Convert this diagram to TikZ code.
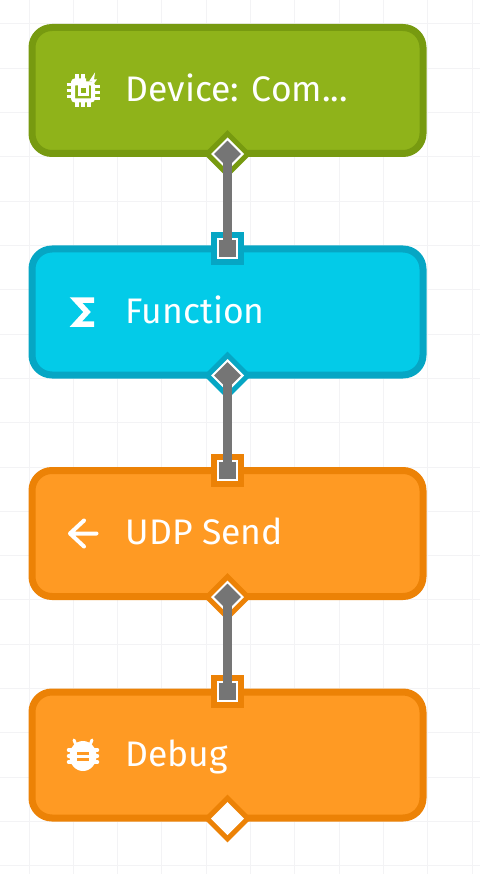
\documentclass[tikz,border=0pt]{standalone}
\usepackage{fontspec}
\setmainfont{Fira Sans}
\usepackage{xcolor}
\definecolor{devfill}{HTML}{8FB31A}
\definecolor{devedge}{HTML}{779A10}
\definecolor{fnfill}{HTML}{03CBE8}
\definecolor{fnedge}{HTML}{06A6C4}
\definecolor{ofill}{HTML}{FF9A23}
\definecolor{oedge}{HTML}{EC8206}
\definecolor{linkgrey}{HTML}{757575}
\definecolor{gridgrey}{HTML}{F3F3F5}
\usetikzlibrary{positioning,shapes.geometric}
\tikzset{
  nbox/.style={draw, rounded corners=20pt, line width=7pt, minimum width=391pt, minimum height=126pt},
  nlabel/.style={font=\fontsize{35.5}{35.5}\selectfont, text=white, inner sep=0pt, text height=24pt, text depth=2pt},
  portout/.style={diamond, fill=#1, minimum width=48pt, minimum height=48pt, inner sep=0pt},
  portin/.style={fill=#1, minimum size=33pt, inner sep=0pt},
  coreout/.style={diamond, draw=white, fill=#1, line width=2pt, minimum width=31pt, minimum height=31pt, inner sep=0pt},
  corein/.style={draw=white, fill=linkgrey, line width=2pt, minimum size=19pt, inner sep=0pt},
  lnk/.style={draw=linkgrey, line width=8.5pt},
  gridline/.style={draw=gridgrey, line width=1pt},
  ico/.style={draw=white, line width=4pt, line cap=round, line join=round},
  pics/chipicon/.style={code={
    \draw[white, line width=4pt, rounded corners=2pt] (-10,-10) rectangle (10,7) (-10,7) -- (-10,10) -- (3,10);
    \draw[white, line width=3pt] (-4,-4) rectangle (4,4);
    \foreach \p in {-6,0,6} {
      \draw[white, line width=3.5pt] (-16.5,\p) -- (-11,\p);
      \draw[white, line width=3.5pt] (11,\p-2) -- (16.5,\p-2);
      \draw[white, line width=3.5pt] (\p,-16.5) -- (\p,-11);
    }
    \draw[white, line width=3.5pt] (-6,11) -- (-6,16.5) (0,11) -- (0,16.5);
    \fill[white] (12,18) -- (6,9) -- (9,9) -- (8,3) -- (14,11) -- (11,11) -- cycle;
  }},
  pics/sigmaicon/.style={code={
    \draw[white, line width=5.5pt, miter limit=10] (11,12) -- (-7,12) -- (4,0) -- (-7,-12) -- (11,-12);
  }},
  pics/sendicon/.style={code={
    \draw[ico] (13.5,0) -- (-13,0) (1,13) -- (-13,0) -- (1,-13);
  }},
  pics/bugicon/.style={code={
    \fill[white] (0,-1) ellipse (13.5pt and 15pt);
    \draw[white, line width=3.5pt, line cap=round] (-14.5,5) -- (14.5,5) (-14.5,-1) -- (14.5,-1) (-14.5,-7) -- (14.5,-7);
    \draw[white, line width=3pt, line cap=round] (-7,10) -- (-9,15) (7,10) -- (9,15);
    \draw[ofill, line width=3pt] (-6,2) -- (6,2) (-6,-4) -- (6,-4);
  }},
}
\begin{document}
\begin{tikzpicture}[x=1pt, y=1pt, node distance=88.5pt]
  \useasboundingbox (0,0) rectangle (480,-874);
  \fill[white] (0,0) rectangle (480,-874);
  \foreach \k in {0,...,10} \draw[gridline] ({29+44.3*\k},0) -- ++(0,-874);
  \foreach \k in {0,...,19} \draw[gridline] (0,{-24-44.3*\k}) -- ++(480,0);

  % boxes
  \node[nbox, fill=devfill, draw=devedge] (dev) at (227.5,-90.5) {};
  \node[nbox, fill=fnfill, draw=fnedge, below=of dev] (fn) {};
  \node[nbox, fill=ofill, draw=oedge, below=of fn] (udp) {};
  \node[nbox, fill=ofill, draw=oedge, below=of udp] (dbg) {};

  % labels
  \node[nlabel, right=97pt of dev.west] (devtxt) {Device: Com...};
  \node[nlabel, right=97pt of fn.west] (fntxt) {Function};
  \node[nlabel, right=97pt of udp.west] (udptxt) {UDP Send};
  \node[nlabel, right=97pt of dbg.west] (dbgtxt) {Debug};

  % icons
  \pic at ([xshift=54.5pt]dev.west) {chipicon};
  \pic at ([xshift=54.5pt]fn.west) {sigmaicon};
  \pic at ([xshift=54.5pt]udp.west) {sendicon};
  \pic at ([xshift=54.5pt]dbg.west) {bugicon};

  % ports
  \node[portout=devedge] (devout) at ([yshift=3pt]dev.south) {};
  \node[coreout=linkgrey] (devoutc) at (devout) {};
  \node[portin=fnedge] (fnin) at ([yshift=-3pt]fn.north) {};
  \node[corein] (fninc) at (fnin) {};
  \node[portout=fnedge] (fnout) at ([yshift=3pt]fn.south) {};
  \node[coreout=linkgrey] (fnoutc) at (fnout) {};
  \node[portin=oedge] (udpin) at ([yshift=-3pt]udp.north) {};
  \node[corein] (udpinc) at (udpin) {};
  \node[portout=oedge] (udpout) at ([yshift=3pt]udp.south) {};
  \node[coreout=linkgrey] (udpoutc) at (udpout) {};
  \node[portin=oedge] (dbgin) at ([yshift=-3pt]dbg.north) {};
  \node[corein] (dbginc) at (dbgin) {};
  \node[portout=oedge] (dbgout) at ([yshift=3pt]dbg.south) {};
  \node[coreout=white] (dbgoutc) at (dbgout) {};

  % links
  \draw[lnk] (devoutc.center) -- (fninc.center);
  \draw[lnk] (fnoutc.center) -- (udpinc.center);
  \draw[lnk] (udpoutc.center) -- (dbginc.center);
\end{tikzpicture}
\end{document}
